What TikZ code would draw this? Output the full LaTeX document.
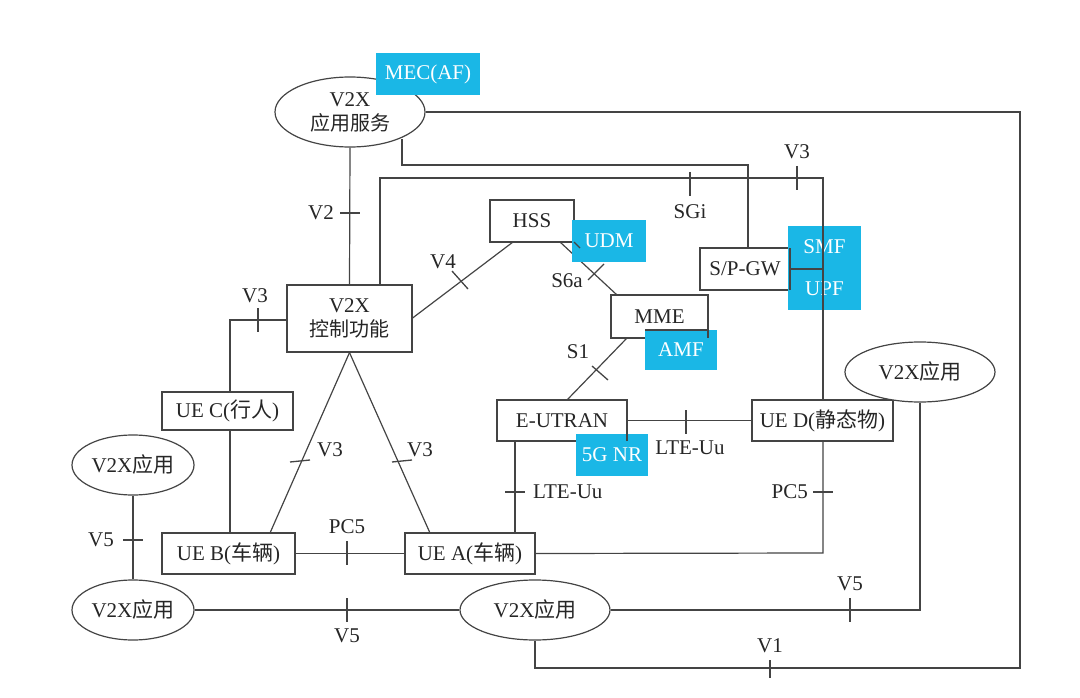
\documentclass[tikz,border=0pt]{standalone}
\usepackage{fontspec}
\setmainfont{Liberation Serif}
\newfontfamily\cjk{Noto Sans CJK SC}
\usetikzlibrary{shapes.geometric,calc}
\definecolor{cy}{HTML}{1AB7E6}
\definecolor{ln}{HTML}{444444}
\begin{document}
\begin{tikzpicture}[x=1pt,y=-1pt,
  every node/.style={font=\fontsize{21}{24}\selectfont,text=black!85},
  box/.style={draw=ln,line width=1.2pt,fill=white,inner sep=0pt},
  ell/.style={draw=ln,line width=1.2pt,ellipse,fill=white,inner sep=0pt},
  hl/.style={fill=cy,text=white,inner sep=0pt},
  ln/.style={draw=ln,line width=1.2pt},
  tk/.style={draw=ln,line width=1.3pt},
  lab/.style={inner sep=0pt}]
\useasboundingbox (0,0) rectangle (1080,698);
% nodes
\node[ell,minimum width=150,minimum height=70,align=center] (as) at (350,112) {V2X\\{\cjk\fontsize{20}{24}\selectfont 应用服务}};
\node[box,minimum width=125,minimum height=67,align=center] (cf) at (349.5,318.5) {V2X\\{\cjk\fontsize{20}{24}\selectfont 控制功能}};
\node[box,minimum width=84,minimum height=42] (hss) at (532,221) {HSS};
\node[box,minimum width=97,minimum height=43] (mme) at (659.5,316.5) {MME};
\node[box,minimum width=90,minimum height=42] (gw) at (745,269) {S/P-GW};
\node[box,minimum width=130,minimum height=41] (eu) at (562,420.5) {E-UTRAN};
\node[box,minimum width=141,minimum height=41] (ued) at (822.5,420.5) {UE D({\cjk 静态物})};
\node[box,minimum width=131,minimum height=38] (uec) at (227.5,411) {UE C({\cjk 行人})};
\node[box,minimum width=133,minimum height=41] (ueb) at (228.5,553.5) {UE B({\cjk 车辆})};
\node[box,minimum width=130,minimum height=41] (uea) at (470,553.5) {UE A({\cjk 车辆})};
\node[ell,minimum width=150,minimum height=60] (ar) at (920,372) {V2X{\cjk 应用}};
\node[ell,minimum width=122,minimum height=60] (al) at (133,465) {V2X{\cjk 应用}};
\node[ell,minimum width=122,minimum height=60] (abl) at (133,610) {V2X{\cjk 应用}};
\node[ell,minimum width=150,minimum height=60] (abc) at (535,610) {V2X{\cjk 应用}};
% coordinates
\coordinate (c1) at (1020,112); \coordinate (c2) at (1020,668); \coordinate (c3) at (535,668);
\coordinate (c4) at (402,165); \coordinate (c5) at (748,165);
\coordinate (c6) at (380,178); \coordinate (c7) at (823,178);
\coordinate (c8) at (920,610); \coordinate (c9) at (823,553);
\coordinate (c10) at (230,320);
% connectors
\draw[ln] (as.east) -- (c1) -- (c2) -- (c3) -- (abc.south);
\draw[ln] (402,139) -- (c4) -- (c5) -- (gw.north -| c5);
\draw[ln] (cf.north -| c6) -- (c6) -- (c7) -- (ued.north -| c7);
\draw[ln] (gw.east) -- (823,269);
\draw[ln] (as.south) -- (cf.north);
\draw[ln] (cf.east |- 318,318) -- (513,242);
\draw[ln] (560,242) -- (617,295);
\draw[ln] (627,338) -- (567,400);
\draw[ln] (eu.east) -- (ued.west);
\draw[ln] (ar.south) -- (c8) -- (abc.east);
\draw[ln] (ued.south -| c9) -- (c9) -- (uea.east);
\draw[ln] (eu.south -| 515,0) -- (uea.north -| 515,0);
\draw[ln] (ueb.east) -- (uea.west);
\draw[ln] (uec.south -| 230,0) -- (ueb.north -| 230,0);
\draw[ln] (uec.north -| c10) -- (c10) -- (cf.west |- c10);
\draw[ln] (cf.south) -- (270,533);
\draw[ln] (cf.south) -- (430,533);
\draw[ln] (al.south) -- (abl.north);
\draw[ln] (abl.east) -- (abc.west);
% highlights
\node[hl,minimum width=104,minimum height=42] (mec) at (428,74) {MEC(AF)};
\node[hl,minimum width=74,minimum height=42] (udm) at (609,241) {UDM};
\node[hl,minimum width=73,minimum height=42] (smf) at (824.5,247) {SMF};
\node[hl,minimum width=73,minimum height=42] (upf) at (824.5,289) {UPF};
\node[hl,minimum width=72,minimum height=40] (amf) at (681,350) {AMF};
\node[hl,minimum width=72,minimum height=42] (nr) at (612,455) {5G NR};
\draw[ln] (790,269) -- (823,269);
\draw[ln] (823,226) -- (823,310);
\draw[ln] (790,248) -- (790,290);
\draw[ln] (574,242) -- (580,248);
\draw[ln] (627,434) -- (627,441);
\draw[ln] (645,330) -- (708,330) -- (708,338);
% ticks
\draw[tk] (770,660) -- (770,678); \node[lab] at (770,646) {V1};
\draw[tk] (690,172) -- (690,196); \node[lab] at (690,212) {SGi};
\draw[tk] (797,166) -- (797,190); \node[lab] at (797,152) {V3};
\draw[tk] (340,213) -- (360,213); \node[lab] at (321,213) {V2};
\draw[tk] (452,271) -- (468,289); \node[lab] at (443,262) {V4};
\draw[tk] (588,280) -- (604,264); \node[lab] at (567,281) {S6a};
\draw[tk] (592,366) -- (608,380); \node[lab] at (578,352) {S1};
\draw[tk] (686,410) -- (686,434); \node[lab] at (690,448) {LTE-Uu};
\draw[tk] (505,492) -- (525,492); \node[lab,anchor=west] at (533,492) {LTE-Uu};
\draw[tk] (813,492) -- (833,492); \node[lab,anchor=east] at (808,492) {PC5};
\draw[tk] (850,598) -- (850,622); \node[lab] at (850,584) {V5};
\draw[tk] (347,541) -- (347,565); \node[lab] at (347,527) {PC5};
\draw[tk] (347,598) -- (347,622); \node[lab] at (347,636) {V5};
\draw[tk] (123,540) -- (143,540); \node[lab] at (101,540) {V5};
\draw[tk] (258,308) -- (258,332); \node[lab] at (255,296) {V3};
\draw[tk] (290,462) -- (310,460); \node[lab] at (330,450) {V3};
\draw[tk] (392,462) -- (412,460); \node[lab] at (420,450) {V3};
\end{tikzpicture}
\end{document}
